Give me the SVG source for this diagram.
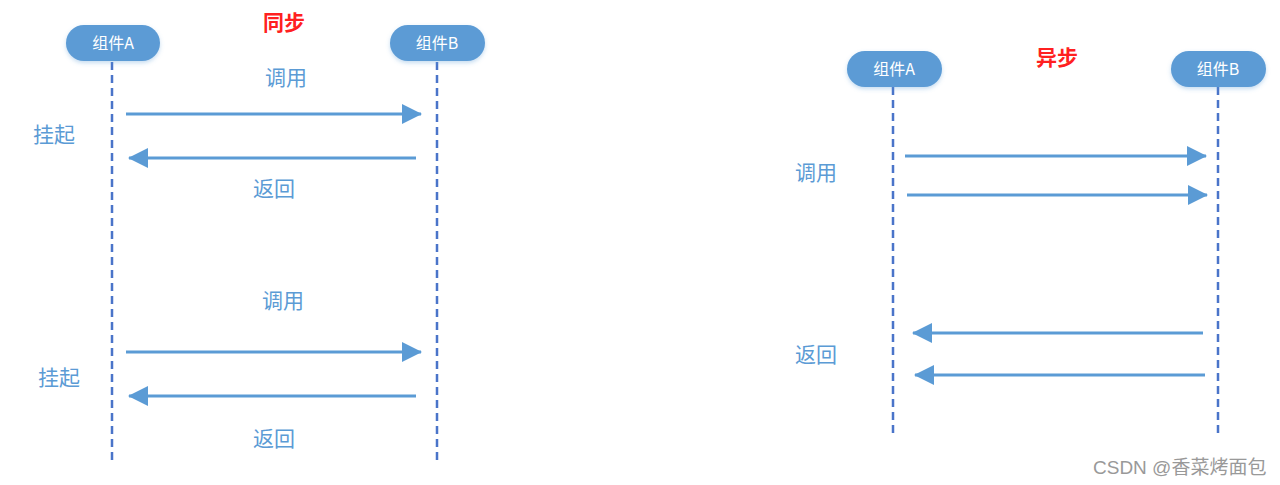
<svg xmlns="http://www.w3.org/2000/svg" width="1280" height="485" viewBox="0 0 1280 485">
<defs>
<style>
.pill{fill:#5b9bd5;}
.pt{font-family:"Noto Sans CJK SC","Liberation Sans",sans-serif;font-size:16px;fill:#ffffff;text-anchor:middle;dominant-baseline:central;}
.life{stroke:#4a74c9;stroke-width:2.5;stroke-dasharray:8 5;fill:none;}
.msg{stroke:#5b9bd5;stroke-width:3;fill:none;}
.lbl{font-family:"Noto Sans CJK SC","Liberation Sans",sans-serif;font-size:21px;fill:#5b9bd5;text-anchor:middle;dominant-baseline:central;}
.title{font-family:"Noto Sans CJK SC","Liberation Sans",sans-serif;font-size:21px;font-weight:bold;fill:#ff2020;text-anchor:middle;dominant-baseline:central;}
.wm{font-family:"Liberation Sans","Noto Sans CJK SC",sans-serif;font-size:19px;fill:#999999;}
</style>
<filter id="sh" x="-20%" y="-30%" width="140%" height="170%">
<feDropShadow dx="0" dy="2" stdDeviation="2" flood-color="#5b9bd5" flood-opacity="0.35"/>
</filter>
<marker id="ah" viewBox="0 0 20 20" refX="19" refY="10" markerWidth="20" markerHeight="20" markerUnits="userSpaceOnUse" orient="auto">
<path d="M0,0 L20,10 L0,20 Z" fill="#5b9bd5"/>
</marker>
</defs>
<rect width="1280" height="485" fill="#ffffff"/>

<text class="title" x="284" y="21">同步</text>
<text class="title" x="1057" y="56">异步</text>

<g id="connectors">
<line class="life" x1="112" y1="62" x2="112" y2="462"/>
<line class="life" x1="437" y1="62" x2="437" y2="462"/>
<line class="life" x1="893" y1="87" x2="893" y2="436"/>
<line class="life" x1="1218" y1="87" x2="1218" y2="436"/>
<line class="msg" x1="126" y1="114" x2="421" y2="114" marker-end="url(#ah)"/>
<line class="msg" x1="416" y1="158" x2="129" y2="158" marker-end="url(#ah)"/>
<line class="msg" x1="126" y1="352" x2="421" y2="352" marker-end="url(#ah)"/>
<line class="msg" x1="416" y1="396" x2="129" y2="396" marker-end="url(#ah)"/>
<line class="msg" x1="905" y1="156" x2="1206" y2="156" marker-end="url(#ah)"/>
<line class="msg" x1="907" y1="195" x2="1207" y2="195" marker-end="url(#ah)"/>
<line class="msg" x1="1203" y1="333" x2="913" y2="333" marker-end="url(#ah)"/>
<line class="msg" x1="1205" y1="375" x2="915" y2="375" marker-end="url(#ah)"/>
</g>

<g id="syncA"><rect class="pill" x="66" y="25" width="94" height="36" rx="18" filter="url(#sh)"/><text class="pt" x="113" y="42">组件A</text></g>
<g id="syncB"><rect class="pill" x="390" y="25" width="95" height="36" rx="18" filter="url(#sh)"/><text class="pt" x="437" y="42">组件B</text></g>
<g id="asyncA"><rect class="pill" x="847" y="51" width="95" height="36" rx="18" filter="url(#sh)"/><text class="pt" x="894" y="68">组件A</text></g>
<g id="asyncB"><rect class="pill" x="1171" y="51" width="95" height="36" rx="18" filter="url(#sh)"/><text class="pt" x="1218" y="68">组件B</text></g>

<g id="labels">
<text class="lbl" x="286" y="76">调用</text>
<text class="lbl" x="274" y="187">返回</text>
<text class="lbl" x="54" y="133">挂起</text>
<text class="lbl" x="283" y="299">调用</text>
<text class="lbl" x="274" y="437">返回</text>
<text class="lbl" x="59" y="376">挂起</text>
<text class="lbl" x="816" y="171">调用</text>
<text class="lbl" x="816" y="353">返回</text>
</g>

<text class="wm" x="1093" y="474">CSDN @香菜烤面包</text>
</svg>
